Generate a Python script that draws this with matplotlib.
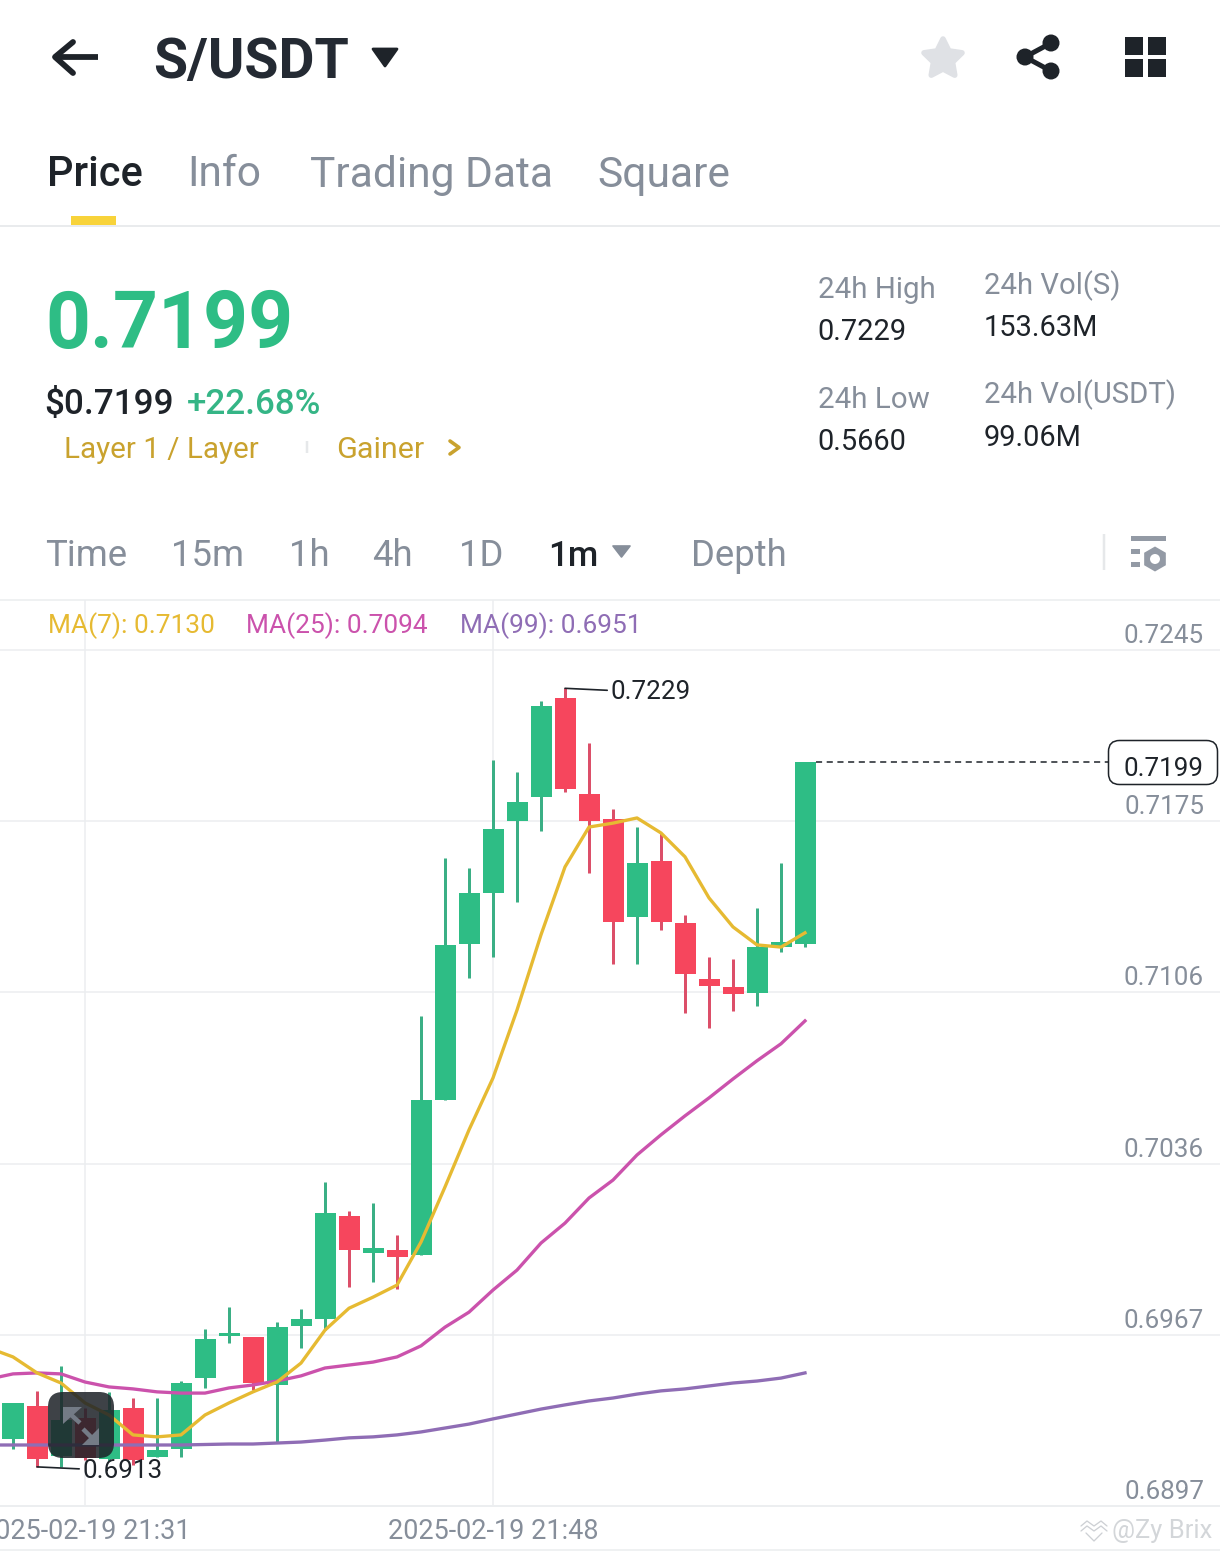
import numpy as np
import matplotlib
matplotlib.use("Agg")
import matplotlib.pyplot as plt
from matplotlib.patches import FancyBboxPatch, Polygon, Circle, Rectangle
from matplotlib.transforms import ScaledTranslation

plt.rcParams['font.family'] = ['Roboto', 'DejaVu Sans']

# candles, 1 minute each, first one is 21:28
opens = [0.69242, 0.69377, 0.69173, 0.69328, 0.69161, 0.69368, 0.69169, 0.69202, 0.69490, 0.69661,
         0.69657, 0.69462, 0.69701, 0.69730, 0.70149, 0.69999, 0.70011, 0.69990, 0.70621, 0.71255,
         0.71462, 0.71755, 0.71852, 0.72255, 0.71864, 0.71763, 0.71365, 0.71593, 0.71340, 0.71112,
         0.71080, 0.71055, 0.71242, 0.71255]
closes = [0.69389, 0.69161, 0.69320, 0.69165, 0.69360, 0.69157, 0.69198, 0.69470, 0.69648, 0.69673,
          0.69470, 0.69697, 0.69730, 0.70161, 0.70011, 0.70019, 0.69982, 0.70621, 0.71251, 0.71462,
          0.71722, 0.71832, 0.72223, 0.71885, 0.71755, 0.71345, 0.71584, 0.71345, 0.71133, 0.71084,
          0.71051, 0.71242, 0.71263, 0.71994]
highs = [0.69389, 0.69438, 0.69539, 0.69368, 0.69434, 0.69409, 0.69409, 0.69478, 0.69689, 0.69779,
         0.69657, 0.69718, 0.69770, 0.70287, 0.70169, 0.70202, 0.70072, 0.70962, 0.71605, 0.71564,
         0.72003, 0.71954, 0.72243, 0.72294, 0.72072, 0.71803, 0.71730, 0.71706, 0.71373, 0.71202,
         0.71194, 0.71401, 0.71584, 0.71994]
lows = [0.69202, 0.69129, 0.69129, 0.69157, 0.69153, 0.69137, 0.69169, 0.69169, 0.69450, 0.69632,
        0.69442, 0.69226, 0.69612, 0.69685, 0.69860, 0.69880, 0.69852, 0.69990, 0.70621, 0.71116,
        0.71202, 0.71426, 0.71714, 0.71873, 0.71544, 0.71174, 0.71174, 0.71312, 0.70974, 0.70913,
        0.70982, 0.71003, 0.71222, 0.71242]

# moving averages start one minute before the first visible candle
ma7 = [0.69612, 0.69576, 0.69511, 0.69470, 0.69389, 0.69340, 0.69259, 0.69251, 0.69259, 0.69340,
       0.69389, 0.69434, 0.69474, 0.69551, 0.69685, 0.69774, 0.69819, 0.69868, 0.70043, 0.70267,
       0.70499, 0.70710, 0.70986, 0.71292, 0.71568, 0.71730, 0.71746, 0.71767, 0.71706, 0.71609,
       0.71442, 0.71324, 0.71251, 0.71242, 0.71300]
ma25 = [0.69486, 0.69507, 0.69511, 0.69507, 0.69474, 0.69454, 0.69446, 0.69434, 0.69429, 0.69429,
        0.69450, 0.69462, 0.69478, 0.69499, 0.69531, 0.69543, 0.69555, 0.69576, 0.69621, 0.69697,
        0.69758, 0.69848, 0.69929, 0.70039, 0.70120, 0.70222, 0.70295, 0.70397, 0.70479, 0.70556,
        0.70629, 0.70706, 0.70780, 0.70849, 0.70942]
ma99 = [0.69218, 0.69218, 0.69218, 0.69218, 0.69218, 0.69218, 0.69218, 0.69218, 0.69218, 0.69220,
        0.69222, 0.69222, 0.69226, 0.69230, 0.69238, 0.69247, 0.69251, 0.69259, 0.69271, 0.69287,
        0.69303, 0.69324, 0.69344, 0.69364, 0.69381, 0.69397, 0.69409, 0.69425, 0.69438, 0.69446,
        0.69458, 0.69470, 0.69478, 0.69490, 0.69511]

price_ticks = [0.72450, 0.71754, 0.71058, 0.70362, 0.69666, 0.68970]
time_ticks = [3, 20]
time_labels = ['2025-02-19 21:31', '2025-02-19 21:48']
tabs = ['Price', 'Info', 'Trading Data', 'Square']
intervals = ['Time', '15m', '1h', '4h', '1D', '1m', 'Depth']

GREEN = '#2EBD85'
RED = '#F6465D'
DARK = '#1E2329'
GRAY = '#868E9A'
GRID = '#ECEEF0'
GOLD = '#C9A22E'
C_MA7 = '#E6BA32'
C_MA25 = '#CB52AC'
C_MA99 = '#8F6DB5'

W, H = 1220, 1551
PX = 0.72  # pixels to points at dpi 100

fig = plt.figure(figsize=(W / 100, H / 100), dpi=100, facecolor='white')

# ---- chart ----
ax = fig.add_axes([0, (H - 1506) / H, 1, (1506 - 600) / H])
ax.set_xlim(-13 / 24, (W - 13) / 24)
ax.set_ylim(0.68970, 0.72653)
for s in ['top', 'left', 'right']:
    ax.spines[s].set_visible(False)
ax.spines['bottom'].set_color(GRID)
ax.spines['bottom'].set_linewidth(1.4)
ax.set_axisbelow(True)
ax.grid(True, color=GRID, linewidth=1.1)

idx = np.arange(len(opens))
colors = [GREEN if c >= o else RED for o, c in zip(opens, closes)]
wick_colors = ['#3BAF85' if c >= o else '#DC4F69' for o, c in zip(opens, closes)]
ax.vlines(idx, lows, highs, colors=wick_colors, linewidth=3.0 * PX, zorder=2)
body_low = np.minimum(opens, closes)
body_h = np.abs(np.array(closes) - np.array(opens))
ax.bar(idx, body_h, bottom=body_low, width=0.875, color=colors, linewidth=0, zorder=3)

ma_idx = np.arange(-1, len(opens))
ax.plot(ma_idx, ma99, color=C_MA99, linewidth=3.3 * PX, zorder=4, solid_joinstyle='round')
ax.plot(ma_idx, ma25, color=C_MA25, linewidth=3.3 * PX, zorder=4, solid_joinstyle='round')
ax.plot(ma_idx, ma7, color=C_MA7, linewidth=3.3 * PX, zorder=5, solid_joinstyle='round')

# high / low markers
hi = int(np.argmax(highs))
lo = int(np.argmin(lows))
mark = dict(arrowstyle='-', color=DARK, lw=1.2, shrinkA=0, shrinkB=0)
ax.annotate(f'{highs[hi]:.4f}', xy=(hi, highs[hi]), xytext=(45, -4), textcoords='offset pixels',
            va='center', ha='left', fontsize=26 * PX, color=DARK, arrowprops=mark, zorder=6)
ax.annotate(f'{lows[lo]:.4f}', xy=(lo, lows[lo]), xytext=(45, -4), textcoords='offset pixels',
            va='center', ha='left', fontsize=26 * PX, color=DARK, arrowprops=mark, zorder=6)

# last price dashed line
ax.hlines(closes[-1], idx[-1] + 0.45, (1108 - 13) / 24, colors=DARK, linewidth=1.1,
          linestyles=(0, (4, 3)), zorder=2)

ax.set_yticks(price_ticks)
ax.set_yticklabels([f'{p:.4f}' for p in price_ticks])
ax.yaxis.tick_right()
ax.tick_params(axis='y', length=0, pad=-16 * PX, labelsize=26 * PX, labelcolor=GRAY)
for lab in ax.get_yticklabels():
    lab.set_ha('right')
    lab.set_va('bottom')
    lab.set_transform(lab.get_transform() + ScaledTranslation(0, 2 / 100, fig.dpi_scale_trans))
ax.set_xticks(time_ticks)
ax.set_xticklabels(time_labels)
ax.tick_params(axis='x', length=0, pad=12 * PX, labelsize=27 * PX, labelcolor=GRAY)

# ---- everything else, in pixel coords ----
ui = fig.add_axes([0, 0, 1, 1], zorder=5)
ui.set_xlim(0, W)
ui.set_ylim(H, 0)
ui.axis('off')
ui.patch.set_alpha(0)


def label(x, y, s, size, color=DARK, weight='normal', ha='left'):
    # small shift so the glyphs sit where the measured edges are
    ui.text(x - 0.5, y - 1.5, s, fontsize=size * PX, color=color, fontweight=weight, ha=ha, va='center_baseline')


def seg(xs, ys, color=DARK, lw=3.0, cap='round'):
    ui.plot(xs, ys, color=color, linewidth=lw * PX, solid_capstyle=cap, solid_joinstyle='round')


# top bar
seg([98, 57], [57, 57], lw=5.8, cap='butt')
seg([73, 55, 73], [42, 57, 73], lw=5.8)
label(154, 59, 'S/USDT', 55.5, color='#242A33', weight='bold')
ui.add_patch(Polygon([(373, 49), (397, 49), (385, 66)], closed=True, fc=DARK, ec=DARK, lw=2, joinstyle='round'))

ang = np.deg2rad(90 + np.arange(10) * 36)
rad = np.where(np.arange(10) % 2 == 0, 20, 10)
star = np.c_[943 + rad * np.cos(ang), 59 - rad * np.sin(ang)]
ui.add_patch(Polygon(star, closed=True, fc='#DFE1E5', ec='#DFE1E5', lw=4, joinstyle='round'))

seg([1051, 1025, 1051], [43, 57, 71], lw=5)
for cx, cy in [(1051, 43), (1025, 57), (1051, 71)]:
    ui.add_patch(Circle((cx, cy), 8.5, fc=DARK, ec='none'))
for qx in [1125, 1148]:
    for qy in [37, 59]:
        ui.add_patch(Rectangle((qx, qy), 17.5, 17.5, fc=DARK, ec='none'))

# tabs
tab_x = [47, 188, 311, 598]
for i, t in enumerate(tabs):
    if i == 0:
        label(tab_x[i], 172, t, 41.5, weight='medium')
    else:
        label(tab_x[i], 172, t, 42.5, color=GRAY)
ui.add_patch(Rectangle((71, 216), 45, 9, fc='#F8D33A', ec='none'))
seg([0, W], [226, 226], color='#E9EBED', lw=2, cap='butt')

# price block
label(46, 320, '0.7199', 78.5, color=GREEN, weight='bold')
label(45, 402, '$0.7199', 35, color=DARK, weight='medium')
label(187, 402, '+22.68%', 35, color='#35B586', weight='medium')
label(64, 448, 'Layer 1 / Layer', 29.6, color=GOLD)
seg([307, 307], [441, 453], color='#E6E8EA', lw=2.5, cap='butt')
label(337, 448, 'Gainer', 30.5, color=GOLD)
seg([450, 459, 450], [441, 447.5, 454], color=GOLD, lw=3.6)

label(818, 288, '24h High', 29.5, color=GRAY)
label(818, 330, '0.7229', 29)
label(818, 398, '24h Low', 29.5, color=GRAY)
label(818, 440, '0.5660', 29)
label(984, 284, '24h Vol(S)', 29.2, color=GRAY)
label(984, 326, '153.63M', 29)
label(984, 393, '24h Vol(USDT)', 29.2, color=GRAY)
label(984, 436, '99.06M', 29)

# interval row
int_x = [46, 172, 289, 373, 459, 549, 691]
for i, t in enumerate(intervals):
    if t == '1m':
        label(int_x[i], 555, t, 35, weight='medium')
    else:
        label(int_x[i], 554, t, 36.5, color=GRAY)
ui.add_patch(Polygon([(613, 546), (630, 546), (621.5, 557)], closed=True, fc=GRAY, ec=GRAY, lw=1.2, joinstyle='round'))
seg([1104, 1104], [534, 570], color='#E6E8EA', lw=2.5, cap='butt')

# chart settings icon
ICON = '#939AA5'
ui.add_patch(Rectangle((1131, 535.5), 35, 5.5, fc=ICON, ec='none'))
ui.add_patch(Rectangle((1131, 549), 9, 5, fc=ICON, ec='none'))
ui.add_patch(Rectangle((1131, 562), 9, 5, fc=ICON, ec='none'))
hex_ang = np.deg2rad(90 + np.arange(6) * 60)
ui.add_patch(Polygon(np.c_[1155 + 12.5 * np.cos(hex_ang), 559 + 12.5 * np.sin(hex_ang)], closed=True, fc=ICON, ec='none'))
ui.add_patch(Circle((1155, 559), 5, fc='white', ec='none'))

seg([0, W], [600, 600], color=GRID, lw=1.6, cap='butt')

# MA legend, values are the last point of each line
label(48, 624, f'MA(7): {ma7[-1]:.4f}', 26.2, color=C_MA7)
label(247, 624, f'MA(25): {ma25[-1]:.4f}', 26.2, color=C_MA25)
label(460, 624, f'MA(99): {ma99[-1]:.4f}', 26.2, color=C_MA99)

# last price box
ui.add_patch(FancyBboxPatch((1108.5, 740.5), 109, 44, boxstyle='round,pad=0,rounding_size=11',
                            fc='white', ec=DARK, lw=1.1))
label(1124, 768, f'{closes[-1]:.4f}', 26)

# full screen button over the candles
ui.add_patch(FancyBboxPatch((48, 1392), 66, 66, boxstyle='round,pad=0,rounding_size=15',
                            fc='#1E2329', ec='none', alpha=0.86, mutation_aspect=1))
ui.add_patch(Polygon([(63, 1407), (82, 1407), (63, 1424)], closed=True, fc='#747B86', ec='none'))
ui.add_patch(Polygon([(99, 1445), (82, 1445), (99, 1428)], closed=True, fc='#747B86', ec='none'))
seg([68, 80], [1412, 1423], color='#747B86', lw=4.5, cap='butt')
seg([83, 94], [1429, 1440], color='#747B86', lw=4.5, cap='butt')

# bottom edge and watermark
seg([0, W], [1550, 1550], color=GRID, lw=1.6, cap='butt')
label(1113, 1530, '@Zy Brix', 25.5, color='#D3D6D9')
WM = '#CDD0D4'
seg([1081, 1087, 1094, 1101, 1107], [1526, 1521, 1526, 1521, 1526], color=WM, lw=1.3)
seg([1081, 1087, 1094, 1101, 1107], [1531, 1526, 1531, 1526, 1531], color=WM, lw=1.3)
seg([1086, 1094, 1102], [1533, 1541, 1533], color=WM, lw=1.3)

fig.savefig('out.png', dpi=100, facecolor='white')
